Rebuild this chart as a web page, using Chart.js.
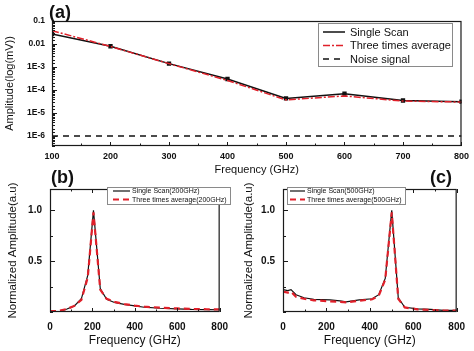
<!DOCTYPE html>
<html>
<head>
<meta charset="utf-8">
<script src="https://cdn.jsdelivr.net/npm/chart.js@4"></script>
<style>
  body { margin: 0; background: #fff; }
  #wrap { position: relative; width: 474px; height: 351px; overflow: hidden; }
  canvas { position: absolute; }
  .tag { position: absolute; font: bold 18px 'Liberation Sans', Arial, sans-serif; color: #111; }
</style>
</head>
<body>
<div id="wrap">
  <canvas id="chartA" width="474" height="180" style="left:0;top:0"></canvas>
  <canvas id="chartB" width="237" height="176" style="left:0;top:175px"></canvas>
  <canvas id="chartC" width="237" height="176" style="left:237px;top:175px"></canvas>
  <div class="tag" style="left:49px;top:2px">(a)</div>
  <div class="tag" style="left:51px;top:167px">(b)</div>
  <div class="tag" style="left:430px;top:167px">(c)</div>
</div>
<script>
// ---- data ----
// (a) amplitude vs frequency, log scale
const freqA = [100, 200, 300, 400, 500, 600, 700, 800];
const singleA = [0.027, 0.008, 1.4e-3, 3.0e-4, 4.3e-5, 6.9e-5, 3.5e-5, 3.1e-5];
const averageA = [0.038, 0.0078, 1.4e-3, 2.6e-4, 3.7e-5, 5.5e-5, 3.3e-5, 3.0e-5];
const noiseA = [1e-6, 1e-6, 1e-6, 1e-6, 1e-6, 1e-6, 1e-6, 1e-6];
const logTickValues = [0.1, 0.01, 1e-3, 1e-4, 1e-5, 1e-6];
const logTickLabels = ['0.1', '0.01', '1E-3', '1E-4', '1E-5', '1E-6'];

// (b) normalized spectrum at 200 GHz
const freqB = [0, 40, 80, 115, 148, 178, 205, 237, 267, 304, 350, 400, 444, 519, 600, 667, 740, 800];
const singleB = [0.006, 0.0, 0.03, 0.06, 0.13, 0.36, 1.0, 0.23, 0.125, 0.094, 0.075, 0.06, 0.047, 0.037, 0.03, 0.025, 0.023, 0.022];
const averageB = [0.01, 0.01, 0.03, 0.06, 0.12, 0.34, 0.98, 0.22, 0.13, 0.1, 0.078, 0.062, 0.052, 0.043, 0.035, 0.03, 0.027, 0.025];

// (c) normalized spectrum at 500 GHz
const freqC = [0, 22, 37, 60, 97, 142, 217, 262, 291, 351, 411, 441, 471, 501, 531, 561, 620, 680, 740, 800];
const singleC = [0.22, 0.21, 0.22, 0.17, 0.14, 0.125, 0.12, 0.11, 0.1, 0.12, 0.13, 0.17, 0.33, 1.0, 0.14, 0.047, 0.03, 0.025, 0.016, 0.016];
const averageC = [0.2, 0.19, 0.2, 0.15, 0.13, 0.115, 0.105, 0.1, 0.095, 0.11, 0.125, 0.16, 0.32, 0.98, 0.13, 0.045, 0.025, 0.02, 0.015, 0.015];

const normTickValues = [0.5, 1.0];
const normTickLabels = ['0.5', '1.0'];
const freqTickLabelsBC = [0, 200, 400, 600, 800];

const FONT = "'Liberation Sans', Arial, sans-serif";
Chart.defaults.font.family = FONT;
Chart.defaults.color = '#111';

const pts = (xs, ys) => xs.map((x, i) => ({ x: x, y: ys[i] }));

// frame + inward ticks
const framePlugin = {
  id: 'frame',
  afterDraw(chart, args, o) {
    const { ctx, chartArea: a, scales } = chart;
    ctx.save();
    ctx.strokeStyle = '#1a1a1a';
    ctx.lineWidth = 1.2;
    ctx.strokeRect(a.left + 0.5, a.top + 0.5, a.width - 1, a.height - 1);
    ctx.lineWidth = 1;
    ctx.beginPath();
    scales.x.ticks.forEach(t => {
      const px = Math.round(scales.x.getPixelForValue(t.value)) + 0.5;
      const len = t.label ? 4 : 2.5;
      ctx.moveTo(px, a.bottom); ctx.lineTo(px, a.bottom - len);
      if (o.topTicks) { ctx.moveTo(px, a.top); ctx.lineTo(px, a.top + len); }
    });
    scales.y.ticks.forEach(t => {
      const py = Math.round(scales.y.getPixelForValue(t.value)) + 0.5;
      const len = t.label ? 5 : 3;
      ctx.moveTo(a.left, py); ctx.lineTo(a.left + len, py);
    });
    ctx.stroke();
    ctx.restore();
  }
};

// legend in a box inside the plot
const boxLegend = {
  id: 'boxLegend',
  afterDraw(chart, args, o) {
    const ctx = chart.ctx;
    const [bx, by, bw, bh] = o.box;
    ctx.save();
    ctx.fillStyle = '#fff';
    ctx.fillRect(bx, by, bw, bh);
    ctx.strokeStyle = '#8a8a8a';
    ctx.lineWidth = 1;
    ctx.strokeRect(bx + 0.5, by + 0.5, bw, bh);
    ctx.font = o.font;
    ctx.textBaseline = 'middle';
    chart.data.datasets.forEach((ds, i) => {
      const y = by + o.rowTop + i * o.rowGap;
      ctx.strokeStyle = ds.borderColor;
      ctx.lineWidth = ds.borderWidth;
      ctx.setLineDash(ds.borderDash || []);
      ctx.beginPath();
      ctx.moveTo(bx + o.sample[0], y);
      ctx.lineTo(bx + o.sample[1], y);
      ctx.stroke();
      ctx.setLineDash([]);
      ctx.fillStyle = '#111';
      ctx.fillText(ds.label, bx + o.textX, y + 0.5);
    });
    ctx.restore();
  }
};

const noGrid = { display: false, drawTicks: false, tickLength: 0 };

// ---- (a) ----
new Chart(document.getElementById('chartA'), {
  type: 'line',
  data: {
    datasets: [
      { label: 'Single Scan', data: pts(freqA, singleA), borderColor: '#111', backgroundColor: '#111',
        borderWidth: 1.5, pointStyle: 'rect', pointRadius: 2, order: 2 },
      { label: 'Three times average', data: pts(freqA, averageA), borderColor: '#e0202a',
        borderWidth: 1.5, borderDash: [7, 2, 2, 2], pointRadius: 0, order: 1 },
      { label: 'Noise signal', data: pts(freqA, noiseA), borderColor: '#111',
        borderWidth: 1.5, borderDash: [6, 5], pointRadius: 0, order: 3 }
    ]
  },
  options: {
    responsive: false, animation: false, devicePixelRatio: 1,
    layout: { padding: { left: 0, right: 12, top: 21, bottom: 3 } },
    plugins: {
      legend: { display: false }, tooltip: { enabled: false },
      frame: { topTicks: false },
      boxLegend: { box: [318, 23, 134, 43], font: '11px ' + FONT, rowTop: 9, rowGap: 13.5, sample: [5, 27], textX: 32 }
    },
    scales: {
      x: {
        type: 'linear', min: 100, max: 800,
        border: { display: false }, grid: noGrid,
        afterFit: s => { s.height = 31; },
        ticks: { stepSize: 50, padding: 5, maxRotation: 0, autoSkip: false,
          font: { size: 9, weight: 'bold' },
          callback: v => (v % 100 === 0 ? String(v) : '') },
        title: { display: true, text: 'Frequency (GHz)', font: { size: 11 }, padding: 0 }
      },
      y: {
        type: 'logarithmic', min: 3.67e-7, max: 0.1,
        border: { display: false }, grid: noGrid,
        afterFit: s => { s.width = 52; },
        ticks: { padding: 7, autoSkip: false, font: { size: 8.5, weight: 'bold' },
          callback: v => {
            const k = logTickValues.findIndex(t => Math.abs(Math.log10(v) - Math.log10(t)) < 1e-6);
            return k >= 0 ? logTickLabels[k] : '';
          } },
        title: { display: true, text: 'Amplitude(log(mV))', font: { size: 11 }, padding: { top: 3, bottom: 0 } }
      }
    }
  },
  plugins: [framePlugin, boxLegend]
});

// ---- (b) and (c) ----
function spectrum(id, xs, single, avg, tag, padRight, yWidth, titlePad, legendBox, sample, textX) {
  new Chart(document.getElementById(id), {
    type: 'line',
    data: {
      datasets: [
        { label: 'Single Scan(' + tag + ')', data: pts(xs, single), borderColor: '#111',
          borderWidth: 1.2, pointRadius: 0, order: 2 },
        { label: 'Three times average(' + tag + ')', data: pts(xs, avg), borderColor: '#e0202a',
          borderWidth: 2.2, borderDash: [6, 4], pointRadius: 0, order: 1 }
      ]
    },
    options: {
      responsive: false, animation: false, devicePixelRatio: 1,
      layout: { padding: { left: 0, right: padRight, top: 8, bottom: 3 } },
      plugins: {
        legend: { display: false }, tooltip: { enabled: false },
        frame: { topTicks: true },
        boxLegend: { box: legendBox, font: '7px ' + FONT, rowTop: 4, rowGap: 8.5, sample: sample, textX: textX }
      },
      scales: {
        x: {
          type: 'linear', min: 0, max: 800,
          border: { display: false }, grid: noGrid,
          afterFit: s => { s.height = 36; },
          ticks: { stepSize: 100, padding: 9, maxRotation: 0, autoSkip: false,
            font: { size: 10, weight: 'bold' },
            callback: v => (freqTickLabelsBC.includes(v) ? String(v) : '') },
          title: { display: true, text: 'Frequency (GHz)', font: { size: 12 }, padding: 0 }
        },
        y: {
          type: 'linear', min: 0, max: 1.21,
          border: { display: false }, grid: noGrid,
          afterFit: s => { s.width = yWidth; },
          ticks: { stepSize: 0.25, padding: 8, autoSkip: false, font: { size: 10, weight: 'bold' },
            callback: v => {
              const k = normTickValues.findIndex(t => Math.abs(t - v) < 1e-6);
              return k >= 0 ? normTickLabels[k] : '';
            } },
          title: { display: true, text: 'Normalized Amplitude(a.u)', font: { size: 11.5 }, padding: { top: titlePad, bottom: 0 } }
        }
      }
    },
    plugins: [framePlugin, boxLegend]
  });
}

spectrum('chartB', freqB, singleB, averageB, '200GHz', 7, 50, 6, [107, 12, 123, 17], [6, 23], 25);
spectrum('chartC', freqC, singleC, averageC, '500GHz', 12, 46, 4.5, [50, 12, 118, 17], [3, 18], 20);
</script>
</body>
</html>
